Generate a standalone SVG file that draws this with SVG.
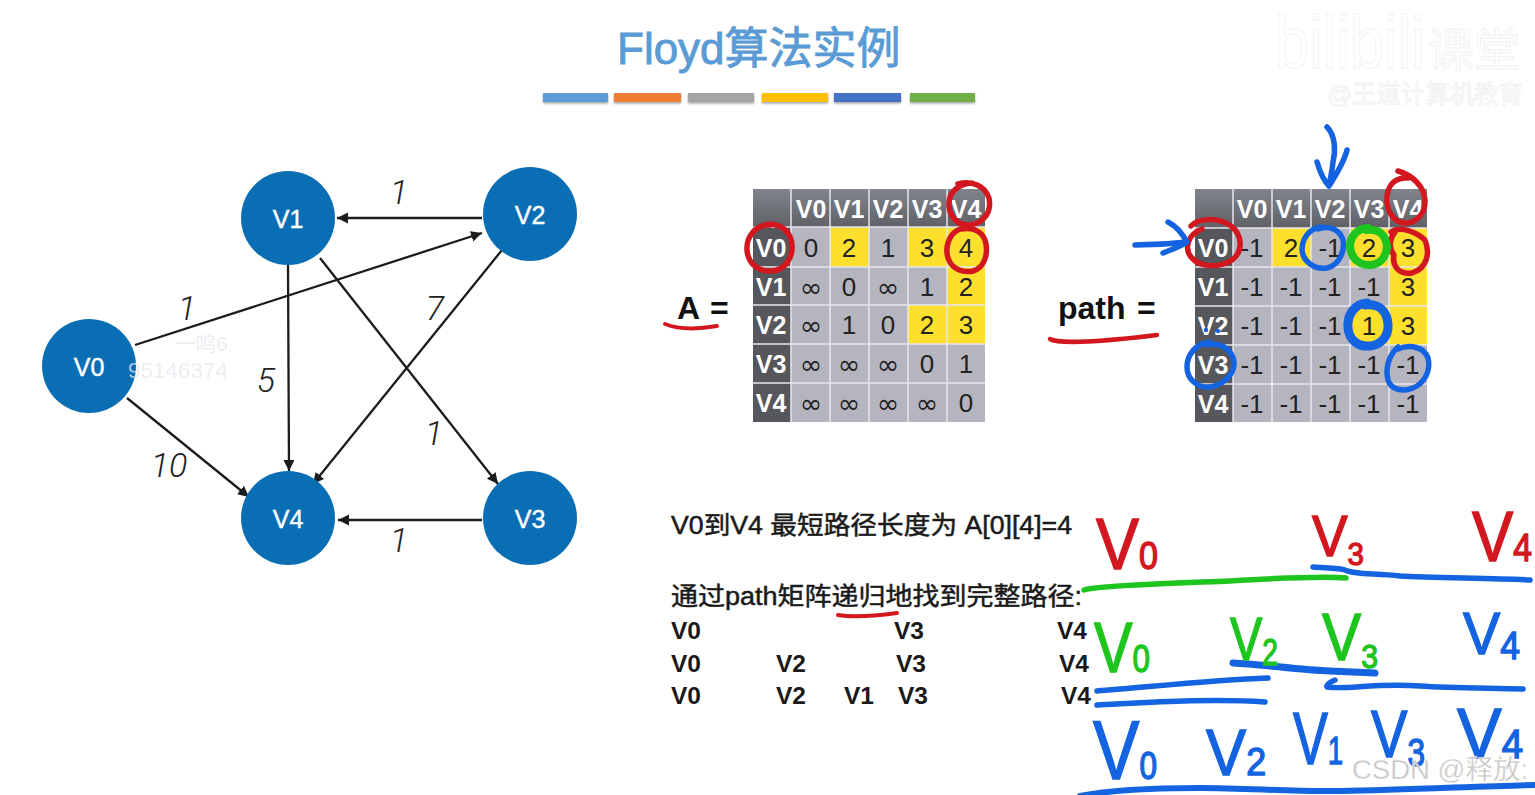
<svg xmlns="http://www.w3.org/2000/svg" width="1535" height="795" viewBox="0 0 1535 795">
<style>
text{font-family:"Liberation Sans","Noto Sans CJK SC",sans-serif}
.node{fill:#0a6eb4}
.nl{fill:#fff;font-size:25px;font-weight:500;text-anchor:middle;stroke:#fff;stroke-width:.4}
.edge{stroke:#1c1c1c;stroke-width:2.3;fill:none;marker-end:url(#ah)}
.w{font-family:"Roboto","Liberation Sans",sans-serif;font-style:italic;font-weight:300;font-size:34px;fill:#222;text-anchor:middle}
.grid{stroke:#e6e6ec;stroke-width:1.5}
.h{fill:#fff;font-size:25px;font-weight:bold;text-anchor:middle}
.c{fill:#222;font-size:26px;text-anchor:middle}
.i{fill:#222;font-size:27px;text-anchor:middle;font-family:"DejaVu Sans",sans-serif}
.t{fill:#1a1a1a;font-size:25.5px;stroke:#1a1a1a;stroke-width:.5}
.b{fill:#1a1a1a;font-size:24.5px;font-weight:bold}
.eq{fill:#111;font-size:32px;font-weight:bold}
.r{stroke:#d3171f;fill:none;stroke-width:5.5;stroke-linecap:round;stroke-linejoin:round}
.bl{stroke:#1463e0;fill:none;stroke-width:5.5;stroke-linecap:round;stroke-linejoin:round}
.g{stroke:#1fc51f;fill:none;stroke-width:5.5;stroke-linecap:round;stroke-linejoin:round}
.hr{fill:#d3171f;stroke:#d3171f;stroke-width:1.4}
.hb{fill:#1463e0;stroke:#1463e0;stroke-width:1.4}
.hg{fill:#1fc51f;stroke:#1fc51f;stroke-width:1.4}
.bar{filter:url(#sh)}
.wm{fill:#fff;stroke:#f1f1f1;stroke-width:1}
</style>
<defs>
<marker id="ah" markerUnits="userSpaceOnUse" markerWidth="12" markerHeight="12" refX="11" refY="5.5" orient="auto"><path d="M0 0L11 5.5L0 11z" fill="#1c1c1c"/></marker>
<filter id="sh" x="-10%" y="-50%" width="120%" height="220%"><feDropShadow dx="0" dy="1.5" stdDeviation="1.2" flood-color="#777" flood-opacity=".7"/></filter>
<linearGradient id="hd" x1="0" y1="0" x2="0" y2="1"><stop offset="0" stop-color="#80848b"/><stop offset="1" stop-color="#5f6166"/></linearGradient>
</defs>
<rect width="1535" height="795" fill="#fff"/>

<g id="title">
<text x="617" y="64" font-size="44" fill="#5b9bd5" stroke="#5b9bd5" stroke-width=".9">Floyd算法实例</text>
<rect class="bar" x="543" y="93" width="65" height="9" fill="#5b9bd5"/>
<rect class="bar" x="614" y="93" width="67" height="9" fill="#ed7d31"/>
<rect class="bar" x="688" y="93" width="66" height="9" fill="#a5a5a5"/>
<rect class="bar" x="762" y="93" width="66" height="9" fill="#ffc000"/>
<rect class="bar" x="834" y="93" width="67" height="9" fill="#4472c4"/>
<rect class="bar" x="910" y="93" width="65" height="9" fill="#70ad47"/>
</g>

<g id="watermark-top" class="wm">
<text x="1275" y="68" font-size="74" textLength="150" lengthAdjust="spacingAndGlyphs">bilibili</text>
<text x="1428" y="66" font-size="46">课堂</text>
<text x="1327" y="103" font-size="24.5">@王道计算机教育</text>
</g>

<g id="connectors">
<line class="edge" x1="482" y1="218" x2="337" y2="218"/>
<line class="edge" x1="135" y1="345" x2="482" y2="233"/>
<line class="edge" x1="288" y1="265" x2="289" y2="471"/>
<line class="edge" x1="320" y1="258" x2="498" y2="484"/>
<line class="edge" x1="502" y1="250" x2="313" y2="484"/>
<line class="edge" x1="127" y1="398" x2="249" y2="497"/>
<line class="edge" x1="482" y1="520" x2="338" y2="520"/>
<text class="w" x="399" y="204">1</text>
<text class="w" x="187" y="320">1</text>
<text class="w" x="435" y="320">7</text>
<text class="w" x="266" y="392">5</text>
<text class="w" x="434" y="445">1</text>
<text class="w" x="169" y="477">10</text>
<text class="w" x="399" y="552">1</text>
</g>

<g id="node-V0"><circle class="node" cx="89" cy="366" r="47"/><text class="nl" x="89" y="376">V0</text></g>
<g id="node-V1"><circle class="node" cx="288" cy="218" r="47"/><text class="nl" x="288" y="228">V1</text></g>
<g id="node-V2"><circle class="node" cx="530" cy="214" r="47"/><text class="nl" x="530" y="224">V2</text></g>
<g id="node-V3"><circle class="node" cx="530" cy="518" r="47"/><text class="nl" x="530" y="528">V3</text></g>
<g id="node-V4"><circle class="node" cx="288" cy="518" r="47"/><text class="nl" x="288" y="528">V4</text></g>

<g id="watermark-mid" fill="#e3e9ee" opacity=".75">
<text x="228" y="351" font-size="21" text-anchor="end">一鸣6</text>
<text x="228" y="378" font-size="22.5" text-anchor="end">95146374</text>
</g>

<g id="matrix-A">
<rect x="753" y="189" width="232" height="233" fill="#b5b5c0"/>
<rect x="753" y="189" width="232" height="38" fill="url(#hd)"/>
<rect x="753" y="227" width="38" height="195" fill="#56575c"/>
<path d="M830 227h39v40h-39zM908 227h77v40h-77zM947 267h38v38h-38zM908 305h77v39h-77z" fill="#fddf2e"/>
<path class="grid" d="M791 189V422M830 189V422M869 189V422M908 189V422M947 189V422M753 227H985M753 267H985M753 305H985M753 344H985M753 383H985"/>
<text class="h" x="811" y="218">V0</text><text class="h" x="849" y="218">V1</text><text class="h" x="888" y="218">V2</text><text class="h" x="927" y="218">V3</text><text class="h" x="966" y="218">V4</text>
<text class="h" x="771" y="257">V0</text><text class="h" x="771" y="296">V1</text><text class="h" x="771" y="334">V2</text><text class="h" x="771" y="373">V3</text><text class="h" x="771" y="412">V4</text>
<text class="c" x="811" y="257">0</text><text class="c" x="849" y="257">2</text><text class="c" x="888" y="257">1</text><text class="c" x="927" y="257">3</text><text class="c" x="966" y="257">4</text>
<text class="i" x="811" y="297">∞</text><text class="c" x="849" y="296">0</text><text class="i" x="888" y="297">∞</text><text class="c" x="927" y="296">1</text><text class="c" x="966" y="296">2</text>
<text class="i" x="811" y="335">∞</text><text class="c" x="849" y="334">1</text><text class="c" x="888" y="334">0</text><text class="c" x="927" y="334">2</text><text class="c" x="966" y="334">3</text>
<text class="i" x="811" y="374">∞</text><text class="i" x="849" y="374">∞</text><text class="i" x="888" y="374">∞</text><text class="c" x="927" y="373">0</text><text class="c" x="966" y="373">1</text>
<text class="i" x="811" y="413">∞</text><text class="i" x="849" y="413">∞</text><text class="i" x="888" y="413">∞</text><text class="i" x="927" y="413">∞</text><text class="c" x="966" y="412">0</text>
<text class="eq" x="677" y="319">A</text><text class="eq" x="710" y="319">=</text>
</g>

<g id="matrix-path">
<rect x="1195" y="189" width="232" height="233" fill="#b5b5c0"/>
<rect x="1195" y="189" width="232" height="39" fill="url(#hd)"/>
<rect x="1195" y="228" width="38" height="194" fill="#56575c"/>
<path d="M1272 228h39v39h-39zM1350 228h77v39h-77zM1389 267h38v39h-38zM1350 306h77v39h-77z" fill="#fddf2e"/>
<path class="grid" d="M1233 189V422M1272 189V422M1311 189V422M1350 189V422M1389 189V422M1195 228H1427M1195 267H1427M1195 306H1427M1195 345H1427M1195 384H1427"/>
<text class="h" x="1252" y="218">V0</text><text class="h" x="1291" y="218">V1</text><text class="h" x="1330" y="218">V2</text><text class="h" x="1369" y="218">V3</text><text class="h" x="1408" y="218">V4</text>
<text class="h" x="1213" y="257">V0</text><text class="h" x="1213" y="296">V1</text><text class="h" x="1213" y="335">V2</text><text class="h" x="1213" y="374">V3</text><text class="h" x="1213" y="413">V4</text>
<text class="c" x="1252" y="257">-1</text><text class="c" x="1291" y="257">2</text><text class="c" x="1330" y="257">-1</text><text class="c" x="1369" y="257">2</text><text class="c" x="1408" y="257">3</text>
<text class="c" x="1252" y="296">-1</text><text class="c" x="1291" y="296">-1</text><text class="c" x="1330" y="296">-1</text><text class="c" x="1369" y="296">-1</text><text class="c" x="1408" y="296">3</text>
<text class="c" x="1252" y="335">-1</text><text class="c" x="1291" y="335">-1</text><text class="c" x="1330" y="335">-1</text><text class="c" x="1369" y="335">1</text><text class="c" x="1408" y="335">3</text>
<text class="c" x="1252" y="374">-1</text><text class="c" x="1291" y="374">-1</text><text class="c" x="1330" y="374">-1</text><text class="c" x="1369" y="374">-1</text><text class="c" x="1408" y="374">-1</text>
<text class="c" x="1252" y="413">-1</text><text class="c" x="1291" y="413">-1</text><text class="c" x="1330" y="413">-1</text><text class="c" x="1369" y="413">-1</text><text class="c" x="1408" y="413">-1</text>
<text class="eq" x="1058" y="319">path</text><text class="eq" x="1137" y="319">=</text>
</g>

<g id="caption">
<text class="t" x="671" y="534" textLength="401" lengthAdjust="spacingAndGlyphs" xml:space="preserve">V0到V4 最短路径长度为 A[0][4]=4</text>
<text class="t" x="671" y="605" textLength="411" lengthAdjust="spacingAndGlyphs">通过path矩阵递归地找到完整路径:</text>
<text class="b" x="671" y="639">V0</text><text class="b" x="894" y="639">V3</text><text class="b" x="1057" y="639">V4</text>
<text class="b" x="671" y="672">V0</text><text class="b" x="776" y="672">V2</text><text class="b" x="896" y="672">V3</text><text class="b" x="1059" y="672">V4</text>
<text class="b" x="671" y="704">V0</text><text class="b" x="776" y="704">V2</text><text class="b" x="844" y="704">V1</text><text class="b" x="898" y="704">V3</text><text class="b" x="1061" y="704">V4</text>
</g>

<g id="ink-marks">
<path class="r" d="M665 324C680 330 700 329 717 326" style="stroke-width:4"/>
<path class="r" d="M1050 339C1058 344 1100 342 1157 335" style="stroke-width:4.5"/>
<path class="r" d="M838 615C855 618 875 616 897 613" style="stroke-width:4"/>
<path class="r" d="M958 184C972 180 985 186 989 198C992 212 984 223 970 225C956 226 948 214 949 202C950 192 958 184 972 183"/>
<path class="r" d="M770 225C755 224 746 238 747 250C748 265 760 272 772 271C785 270 793 258 792 245C791 232 782 224 768 224"/>
<path class="r" d="M960 229C948 234 945 248 948 258C952 270 964 273 973 271C984 268 988 255 986 244C984 232 974 227 962 229"/>
<path class="r" d="M1191 226C1198 218 1218 217 1231 226C1243 235 1243 252 1232 260C1220 268 1200 268 1191 257C1184 248 1188 234 1202 229"/>
<path class="r" d="M1398 171C1412 175 1424 186 1425 200C1426 214 1415 224 1404 223C1393 222 1386 210 1387 197C1388 184 1396 177 1408 178"/>
<path class="r" d="M1391 232C1400 226 1415 231 1425 240C1430 252 1428 268 1412 273C1398 275 1392 265 1394 255C1388 248 1390 238 1395 232"/>
<path class="bl" d="M1327 127C1335 135 1336 150 1333 162C1332 172 1330 180 1329 186M1317 162C1320 172 1325 182 1329 186C1336 175 1344 162 1347 150"/>
<path class="bl" d="M1135 245C1150 245 1170 244 1187 242M1168 222C1176 226 1182 233 1187 242C1180 247 1170 250 1163 253"/>
<path class="bl" d="M1322 227C1308 228 1302 240 1302 250C1303 262 1315 270 1327 268C1340 265 1345 250 1343 240C1340 230 1330 225 1318 229"/>
<path class="bl" d="M1367 303C1354 304 1347 315 1348 328C1349 340 1358 347 1370 346C1381 345 1389 336 1388 324C1387 312 1380 303 1365 305" style="stroke-width:9"/>
<path class="bl" d="M1210 342C1196 343 1187 355 1187 367C1187 380 1198 388 1210 387C1224 385 1235 373 1234 362C1232 350 1222 342 1207 345"/>
<path class="bl" d="M1398 347C1389 355 1385 368 1388 380C1391 390 1403 392 1413 388C1425 383 1431 370 1428 358C1424 347 1410 344 1398 349"/>
<circle cx="1206" cy="330" r="2.2" fill="#1463e0"/><circle cx="1218" cy="331" r="2.2" fill="#1463e0"/>
<path class="g" d="M1368 228C1356 228 1350 238 1350 247C1351 257 1358 265 1369 265C1380 265 1386 257 1387 247C1386 236 1380 228 1366 230" style="stroke-width:8"/>
<path class="g" d="M1084 590C1100 585 1180 583 1230 581C1280 578 1320 576 1346 578"/>
<path class="bl" d="M1313 567C1325 568 1340 568 1345 570C1355 575 1375 573 1400 576C1430 578 1490 578 1530 580"/>
<path class="bl" d="M1233 663C1260 664 1300 670 1330 671L1375 673" style="stroke-width:7"/>
<path class="bl" d="M1097 691C1140 688 1210 680 1268 678"/>
<path class="bl" d="M1335 680C1330 682 1326 685 1327 687C1345 690 1375 683 1420 686C1450 688 1490 688 1523 689"/>
<path class="bl" d="M1097 705C1140 703 1210 698 1265 702"/>
<path class="bl" d="M1080 796C1110 790 1160 788 1200 788C1250 788 1290 792 1340 791C1410 790 1480 786 1535 785" style="stroke-width:6"/>
</g>

<g id="handwriting">
<text class="hr" x="1096" y="569" font-size="72" textLength="62" lengthAdjust="spacingAndGlyphs">V<tspan font-size="38">0</tspan></text>
<text class="hr" x="1312" y="556" font-size="58" textLength="52" lengthAdjust="spacingAndGlyphs">V<tspan font-size="32" dy="9">3</tspan></text>
<text class="hr" x="1472" y="561" font-size="70" textLength="60" lengthAdjust="spacingAndGlyphs">V<tspan font-size="38">4</tspan></text>
<text class="hg" x="1094" y="672" font-size="70" textLength="56" lengthAdjust="spacingAndGlyphs">V<tspan font-size="38">0</tspan></text>
<text class="hg" x="1230" y="660" font-size="62" textLength="48" lengthAdjust="spacingAndGlyphs">V<tspan font-size="36" dy="5">2</tspan></text>
<text class="hg" x="1322" y="660" font-size="66" textLength="56" lengthAdjust="spacingAndGlyphs">V<tspan font-size="34" dy="8">3</tspan></text>
<text class="hb" x="1463" y="654" font-size="60" textLength="57" lengthAdjust="spacingAndGlyphs">V<tspan font-size="38" dy="5">4</tspan></text>
<text class="hb" x="1093" y="779" font-size="84" textLength="64" lengthAdjust="spacingAndGlyphs">V<tspan font-size="38">0</tspan></text>
<text class="hb" x="1206" y="775" font-size="64" textLength="60" lengthAdjust="spacingAndGlyphs">V<tspan font-size="38">2</tspan></text>
<text class="hb" x="1293" y="764" font-size="74" textLength="50" lengthAdjust="spacingAndGlyphs">V<tspan font-size="38">1</tspan></text>
<text class="hb" x="1371" y="757" font-size="66" textLength="54" lengthAdjust="spacingAndGlyphs">V<tspan font-size="38" dy="9">3</tspan></text>
<text class="hb" x="1457" y="758" font-size="70" textLength="66" lengthAdjust="spacingAndGlyphs">V<tspan font-size="40">4</tspan></text>
</g>

<g id="watermark-csdn">
<text x="1352" y="779" font-size="27.5" fill="#c8c8c8" stroke="#fff" stroke-width=".3">CSDN @释放:</text>
</g>
</svg>
